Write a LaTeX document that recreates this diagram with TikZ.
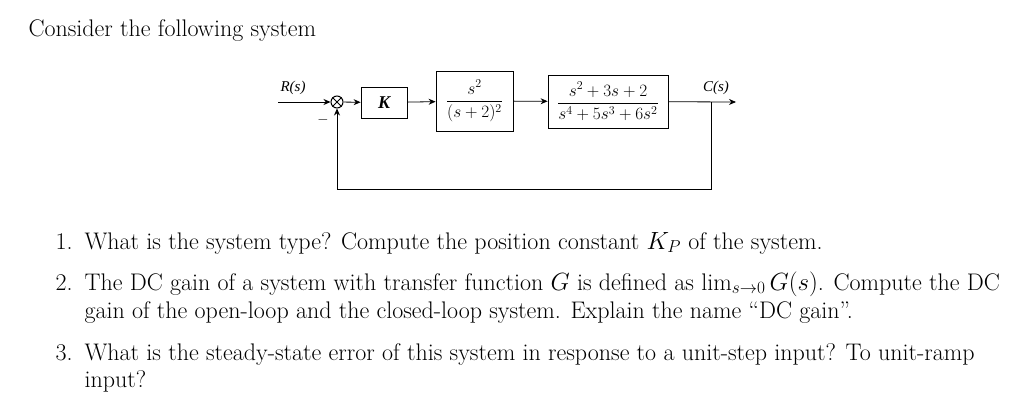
\documentclass[tikz,border=0pt]{standalone}
\usepackage{fontspec}
\newfontfamily\tms{Liberation Serif}
\usetikzlibrary{arrows.meta}
\begin{document}
\begin{tikzpicture}[x=1pt,y=-1pt,
  txt/.style={anchor=base west,inner sep=0,font=\fontsize{24}{28}\selectfont},
  blk/.style={draw,thick,inner sep=0,font=\tms\fontsize{18}{20}\selectfont},
  lbl/.style={inner sep=0,font=\tms\itshape\fontsize{15}{16}\selectfont},
  sig/.style={thick,-{Stealth[length=7pt,width=6pt]}},
  line width=1pt]
\useasboundingbox (0,0) rectangle (1024,412);
\node[txt] (t0) at (28,37) {Consider the following system};
\node[blk,minimum width=46,minimum height=31] (k) at (384,102.5) {\bfseries\itshape K};
\node[blk,minimum width=77,minimum height=60] (g1) at (474.5,101) {$\displaystyle\frac{s^2}{(s+2)^2}$};
\node[blk,minimum width=120,minimum height=53] (g2) at (608,101.5) {$\displaystyle\frac{s^2+3s+2}{s^4+5s^3+6s^2}$};
\node[draw,circle,minimum size=12,inner sep=0] (sum) at (337,102) {};
\draw (sum.north west) -- (sum.south east) (sum.north east) -- (sum.south west);
\coordinate (in) at (278,102);
\coordinate (out) at (736,102);
\coordinate (br) at (711,102);
\node[lbl] (r) at (293,88) {R(s)};
\node[lbl] (c) at (716,88) {C(s)};
\node[inner sep=0,font=\fontsize{14}{16}\selectfont] (m) at (323,120) {$-$};
\draw[sig] (in) -- (sum);
\draw[sig] (sum) -- (k);
\draw[sig] (k) -- (g1);
\draw[sig] (g1) -- (g2);
\draw[sig] (g2) -- (out);
\draw[sig] (br) -- (711,189) -- (337,189) -- (sum);
\node[txt] (n1) at (55,249) {1.};
\node[txt] (l1) at (84,249) {What is the system type? Compute the position constant $K_P$ of the system.};
\node[txt] (n2) at (55,290) {2.};
\node[txt] (l2) at (84,290) {The DC gain of a system with transfer function $G$ is defined as $\lim_{s\to0}G(s)$. Compute the DC};
\node[txt] (l2b) at (84,318) {gain of the open-loop and the closed-loop system. Explain the name ``DC gain''.};
\node[txt] (n3) at (55,360) {3.};
\node[txt] (l3) at (84,360) {What is the steady-state error of this system in response to a unit-step input? To unit-ramp};
\node[txt] (l3b) at (84,387) {input?};
\end{tikzpicture}
\end{document}
